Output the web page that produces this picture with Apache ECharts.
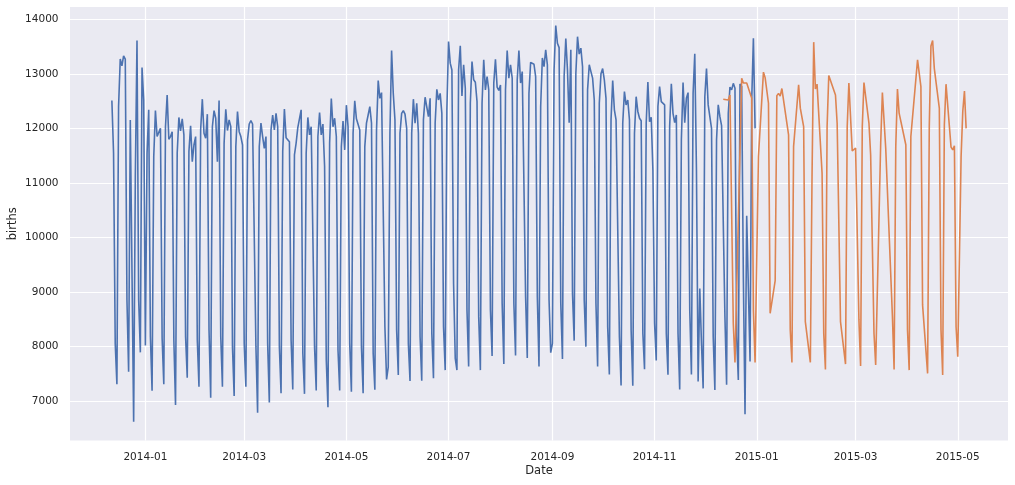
<!DOCTYPE html>
<html>
<head>
<meta charset="utf-8">
<style>
  html, body { margin: 0; padding: 0; background: #fff; }
  #main { width: 1015px; height: 485px; }
</style>
<script src="https://cdn.jsdelivr.net/npm/echarts@6/dist/echarts.min.js"></script>
</head>
<body>
<div id="main"></div>
<script>
const DAY = 86400000;
const tickMonths = ["2014-01", "2014-03", "2014-05", "2014-07", "2014-09", "2014-11", "2015-01", "2015-03", "2015-05"];
const yTicks = [7000, 8000, 9000, 10000, 11000, 12000, 13000, 14000];

// daily births, one value a day from this date on
const trainStart = Date.UTC(2013, 11, 12);
const trainValues = [
  12510, 11550, 8060, 7310, 12400, 13270, 13145, 13330, 13270, 8855, 7540, 12155, 9400, 6625, 11115, 13610, 8850, 7895, 13115, 12520,
  8020, 11545, 12340, 8185, 7190, 11480, 12325, 11850, 11840, 12000, 8155, 7310, 12030, 12610, 11800, 11850, 11940, 8120, 6930, 11545, 12200, 11955, 12175, 11880, 8185, 7430, 11575, 12045, 11390, 11695, 11850,
  8120, 7265, 11970, 12535, 11910, 11820, 12260, 8305, 7065, 12030, 12325, 12185, 11390, 12510, 8185, 7265, 11730, 12350, 11960, 12155, 12030, 8000, 7095, 11665, 12310, 11940, 11850, 11695,
  8060, 7265, 11790, 12080, 12140, 12080, 12045, 8000, 6790, 11665, 12095, 11850, 11635, 11850, 8060, 6975, 11970, 12245, 11970, 12275, 12030, 8000, 7145, 11575, 12355, 11830, 11830, 11755, 8120, 7215, 11515,
  11730, 12015, 12015, 12340, 7880, 7135, 11545, 12200, 11880, 12030, 12030, 8000, 7195, 11850, 12290, 11880, 12080, 11300, 7755, 6890, 11730, 12545, 12030, 12185, 11850, 7940, 7195, 11665, 12135, 11605,
  12425, 12030, 8060, 7175, 11910, 12505, 12175, 12175, 11970, 8000, 7145, 11665, 12095, 12245, 12400, 12095, 7880, 7210, 11970, 12875, 12550, 12655, 12640, 8365, 7400, 7630, 11910, 13425, 12640, 12155, 8305,
  7480, 11910, 12275, 12325, 12260, 12000, 8060, 7370, 11910, 12535, 12095, 12460, 11910, 8185, 7375, 12155, 12570, 12550, 12215, 12550, 8245, 7420, 12095, 12715, 12520, 12640, 12275, 8365, 7570, 12340,
  13590, 13195, 13070, 9160, 7785, 7570, 13070, 13515, 12595, 13165, 12735, 8670, 7635, 12460, 13225, 12890, 12845, 12490, 8550, 7570, 12460, 13255, 12705, 12950, 12705, 8670, 7830, 12830, 13265, 12755, 12695,
  12795, 8790, 7680, 12705, 13425, 12920, 13165, 12920, 8790, 7840, 12890, 13425, 12830, 13040, 13060, 8915, 7790, 12640, 13210, 13180, 13175, 12950, 8915, 7635, 12400, 13290, 13130, 13440, 13165, 8855, 7890,
  8060, 13070, 13885, 13560, 13480, 8795, 7775, 12950, 13645, 13070, 12105, 13440, 8975, 8110, 13010, 13680, 13360, 13470, 13130, 8855, 8000, 12705, 13165, 13040, 12920, 12520, 8795, 7635, 12460, 13000,
  13095, 12890, 12550, 8365, 7490, 12155, 12875, 12340, 12155, 12155, 8185, 7290, 12095, 12675, 12430, 12520, 12155, 8305, 7285, 11910, 12580, 12310, 12185, 12140, 8245, 7585, 12095, 12850, 12120, 12205, 11235,
  8430, 7745, 12400, 12765, 12490, 12490, 12430, 8245, 7485, 12030, 12815, 12275, 12105, 12245, 8245, 7215, 11790, 12840, 12105, 12550, 12655, 8670, 7490, 12640, 13365, 11235, 7360, 9065, 8060, 7235,
  12580, 13095, 12430, 12400, 12000, 8185, 7205, 11790, 12430, 12215, 12050, 12020, 8550, 7300, 12275, 12755, 12705, 12825, 12735, 8185, 7390, 12815, 12770, 9280, 6760, 10400, 9070, 7730, 12520, 13650, 12000
];

// the second run has gaps, so each value carries its day, counted from 2015-01-01
const testBase = Date.UTC(2015, 0, 1);
const testDays = [
  -20, -17, -16, -14, -13, -9, -8, -6, -3, -2, -1, 1, 4, 5, 6, 7, 8, 11, 12, 13, 14, 15, 19, 20, 21, 22, 25, 26, 28, 29, 32, 33, 34, 35, 36, 39, 40, 41, 42, 43,
  47, 48, 49, 50, 53, 54, 55, 57, 58, 59, 60, 61, 62, 63, 64, 67, 68, 69, 70, 71, 74, 75, 77, 78, 81, 82, 83, 84, 85, 89, 90, 91, 92, 96, 98, 99,
  102, 103, 104, 105, 106, 109, 110, 111, 112, 113, 116, 117, 118, 119, 120, 122, 123, 124, 125
];
const testValues = [
  12535, 12520, 12610, 8420, 7710, 12920, 12830, 12830, 12550, 8670, 7710, 11480, 13030, 12930, 12930, 12460, 8610, 9210, 12600, 12640, 12590, 12730, 11880, 8310, 7710, 11670, 12800, 12370, 12030, 8460, 7710, 11115, 13580, 12720, 12810, 11180, 8240, 7580, 12030, 12970,
  12610, 12090, 12090, 8460, 7680, 12030, 12830, 11585, 11610, 11640, 11625, 8490, 7645, 12030, 12840, 12090, 11510, 11510, 8240, 7665, 11730, 12655, 11635, 11635, 8550, 7580, 11670, 12720, 12280, 11700, 8305, 7570, 11850, 13255, 12765, 8765,
  7510, 12030, 13510, 13610, 13100, 12370, 8305, 7480, 12060, 12810, 11655, 11605, 11680, 8365, 7815, 11480, 12310, 12685, 12000
];

const trainData = trainValues.map((v, i) => [trainStart + i * DAY, v]);
const testData = testValues.map((v, i) => [testBase + testDays[i] * DAY, v]);
const tickTimes = tickMonths.map((m) => Date.UTC(+m.slice(0, 4), +m.slice(5) - 1, 1));

const textColor = "#262626";
const font = "DejaVu Sans";

const myChart = echarts.init(document.getElementById("main"));
const option = {
  animation: false,
  backgroundColor: "#fff",
  grid: { left: 70, right: 7, top: 7, bottom: 44.5, backgroundColor: "#EAEAF2", show: true, borderWidth: 0, outerBoundsMode: "none" },
  xAxis: {
    // month ticks are uneven, so a plain value axis over timestamps with custom ticks
    type: "value",
    min: Date.UTC(2013, 10, 17),
    max: Date.UTC(2015, 4, 31),
    name: "Date",
    nameLocation: "middle",
    nameGap: 25,
    nameMoveOverlap: false,
    nameTextStyle: { color: textColor, fontFamily: font, fontSize: 11.5 },
    axisLine: { show: false },
    axisTick: { show: false, customValues: tickTimes },
    axisLabel: {
      customValues: tickTimes,
      color: textColor,
      fontFamily: font,
      fontSize: 10.5,
      margin: 11,
      formatter: (v) => new Date(v).toISOString().slice(0, 7),
    },
    splitLine: { show: true, lineStyle: { color: "#fff", width: 1.2 } },
  },
  yAxis: {
    type: "value",
    min: 6280,
    max: 14224,
    name: "births",
    nameLocation: "middle",
    nameGap: 51,
    nameMoveOverlap: false,
    nameTextStyle: { color: textColor, fontFamily: font, fontSize: 11.5 },
    axisLine: { show: false },
    axisTick: { show: false, customValues: yTicks },
    axisLabel: { customValues: yTicks, color: textColor, fontFamily: font, fontSize: 10.5, margin: 11.5, formatter: (v) => String(v) },
    splitLine: { show: true, lineStyle: { color: "#fff", width: 1.2 } },
  },
  series: [
    { type: "line", data: trainData, showSymbol: false, lineStyle: { color: "#4C72B0", width: 1.6 }, itemStyle: { color: "#4C72B0" } },
    { type: "line", data: testData, showSymbol: false, lineStyle: { color: "#DD8452", width: 1.6 }, itemStyle: { color: "#DD8452" } },
  ],
};
myChart.setOption(option);
</script>
</body>
</html>
